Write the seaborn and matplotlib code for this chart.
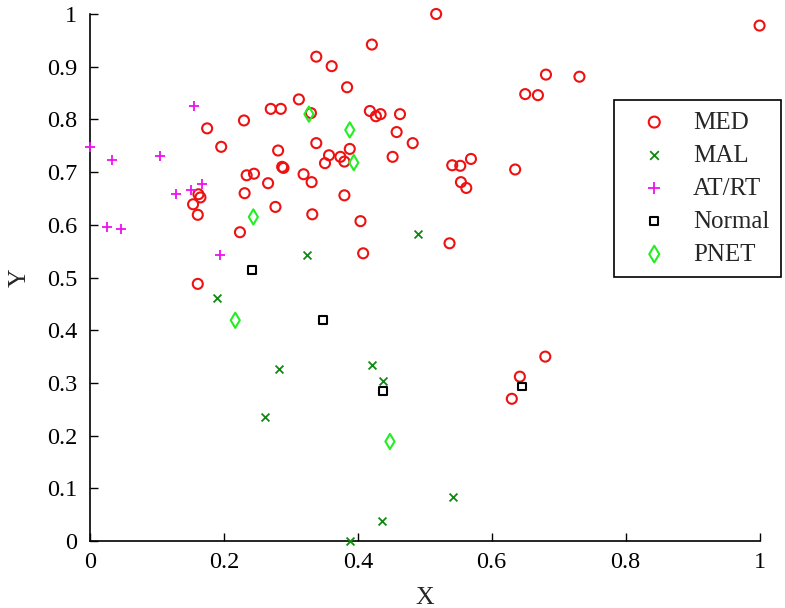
import matplotlib
matplotlib.use("Agg")
import matplotlib.pyplot as plt
import matplotlib.ticker as mticker
import seaborn as sns
import pandas as pd

# values
med_x = [0.421, 0.338, 0.361, 0.384, 0.312, 0.270, 0.285, 0.330, 0.418, 0.427,
         0.434, 0.230, 0.175, 0.196, 0.338, 0.281, 0.388, 0.357, 0.374, 0.351,
         0.380, 0.287, 0.289, 0.234, 0.245, 0.319, 0.331, 0.266, 0.162, 0.165,
         0.231, 0.380, 0.154, 0.277, 0.161, 0.332, 0.404, 0.224, 0.408, 0.161,
         0.517, 0.463, 0.458, 0.482, 0.452, 0.541, 0.553, 0.569, 0.554, 0.562,
         0.537, 0.635, 0.650, 0.669, 0.681, 0.731, 1.000, 0.680, 0.642, 0.630]
med_y = [0.942, 0.919, 0.901, 0.861, 0.838, 0.820, 0.820, 0.812, 0.816, 0.806,
         0.810, 0.798, 0.783, 0.748, 0.755, 0.741, 0.744, 0.732, 0.729, 0.717,
         0.720, 0.710, 0.708, 0.694, 0.697, 0.696, 0.681, 0.679, 0.658, 0.652,
         0.660, 0.656, 0.639, 0.634, 0.619, 0.620, 0.607, 0.586, 0.546, 0.488,
         1.000, 0.810, 0.776, 0.755, 0.729, 0.713, 0.712, 0.725, 0.681, 0.670,
         0.565, 0.705, 0.848, 0.846, 0.885, 0.881, 0.978, 0.350, 0.312, 0.270]

mal_x = [0.324, 0.490, 0.189, 0.282, 0.262, 0.421, 0.437, 0.542, 0.436, 0.388]
mal_y = [0.543, 0.582, 0.462, 0.326, 0.236, 0.335, 0.304, 0.083, 0.039, 0.000]

atrt_x = [0.000, 0.033, 0.104, 0.156, 0.168, 0.151, 0.128, 0.026, 0.047, 0.194]
atrt_y = [0.748, 0.723, 0.731, 0.825, 0.677, 0.666, 0.658, 0.596, 0.593, 0.542]

normal_x = [0.242, 0.348, 0.438, 0.645]
normal_y = [0.514, 0.419, 0.285, 0.293]

pnet_x = [0.327, 0.388, 0.394, 0.244, 0.217, 0.448]
pnet_y = [0.810, 0.780, 0.718, 0.615, 0.419, 0.189]

groups = [
    ("MED", med_x, med_y, "o", "#ee1111", 52),
    ("MAL", mal_x, mal_y, "x", "#118811", 32),
    ("AT/RT", atrt_x, atrt_y, "+", "#ee11ee", 55),
    ("Normal", normal_x, normal_y, "s", "#000000", 30),
    ("PNET", pnet_x, pnet_y, "d", "#22ee22", 60),
]

sns.set_style("ticks")
plt.rcParams["font.family"] = ["Liberation Serif", "DejaVu Serif"]
plt.rcParams["font.size"] = 17

fig = plt.figure(figsize=(7.85, 6.08), dpi=100)
ax = fig.add_axes([0.1146, 0.110, 0.853, 0.867])

for name, xs, ys, mk, col, size in groups:
    df = pd.DataFrame({"X": xs, "Y": ys})
    if mk in ("x", "+"):
        sns.scatterplot(data=df, x="X", y="Y", marker=mk, color=col, s=size,
                        linewidth=1.3, label=name, ax=ax, clip_on=False, zorder=3)
    else:
        sns.scatterplot(data=df, x="X", y="Y", marker=mk, s=size,
                        facecolors="none", edgecolor=col, linewidth=1.5,
                        label=name, ax=ax, clip_on=False, zorder=3)

ax.set_xlim(0, 1)
ax.set_ylim(0, 1)
ax.set_xticks([0, 0.2, 0.4, 0.6, 0.8, 1])
ax.set_yticks([i / 10 for i in range(11)])
ax.xaxis.set_major_formatter(mticker.FormatStrFormatter("%g"))
ax.yaxis.set_major_formatter(mticker.FormatStrFormatter("%g"))
ax.tick_params(direction="in", length=6, width=1, labelsize=17.5, colors="black")
ax.tick_params(axis="y", pad=9)
ax.tick_params(axis="x", pad=8)
ax.set_xlabel("X", fontsize=18.5, labelpad=10)
ax.set_ylabel("Y", fontsize=18.5, labelpad=12)
for s in ["top", "right"]:
    ax.spines[s].set_visible(False)
for s in ["left", "bottom"]:
    ax.spines[s].set_color("black")
    ax.spines[s].set_linewidth(1.2)

leg = ax.legend(loc="upper left", bbox_to_anchor=(0.783, 0.837), fontsize=18,
                frameon=True, fancybox=False, edgecolor="black", framealpha=1,
                borderaxespad=0, borderpad=0.45, labelspacing=0.42,
                handletextpad=0.4, handlelength=2.3, markerscale=1.1)
leg.get_frame().set_linewidth(1.2)
leg.set_clip_on(False)

fig.savefig("out.png", dpi=100)
